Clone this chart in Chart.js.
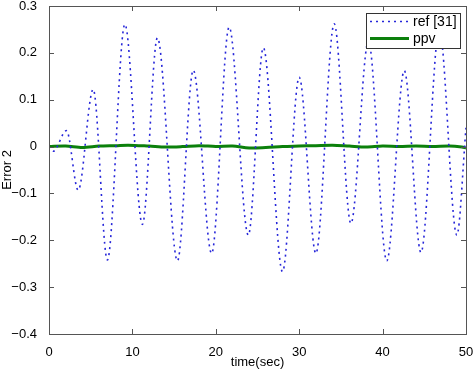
<!DOCTYPE html>
<html>
<head>
<meta charset="utf-8">
<script src="https://cdn.jsdelivr.net/npm/chart.js@4.4.1/dist/chart.umd.min.js"></script>
<style>
html,body{margin:0;padding:0;background:#fff;}
canvas{display:block;}
</style>
</head>
<body>
<canvas id="c" width="474" height="370"></canvas>
<script>
// ---- data ----
const refTime = [0, 0.5, 2.1, 3.5, 5.3, 7.0, 9.1, 11.2, 13.0, 15.4, 17.3, 19.5, 21.6, 23.9, 25.7, 28.0, 30.0, 32.0, 34.2, 36.2, 38.3, 40.5, 42.6, 44.6, 46.8, 48.9, 50];
const refError = [0, -0.01, 0.034, -0.093, 0.122, -0.242, 0.261, -0.166, 0.232, -0.244, 0.163, -0.228, 0.255, -0.189, 0.211, -0.267, 0.148, -0.228, 0.262, -0.164, 0.225, -0.244, 0.162, -0.226, 0.25, -0.189, 0.04];
const ppvTime = [0, 2, 4, 6, 8, 9.5, 12, 14, 16, 18, 20, 22, 24, 26, 28, 30, 32, 34, 36, 38, 40, 42, 44, 46, 48, 49.5, 50];
const ppvError = [0, 0.001, -0.002, 0.001, 0.002, 0.003, 0.001, -0.001, 0, 0.002, 0, 0.001, -0.003, -0.002, 0, 0.001, 0.002, 0.003, 0.001, -0.001, 0.001, 0, 0.001, 0, 0.001, -0.001, -0.003];
const seriesNames = ['ref [31]', 'ppv'];
const xTicks = [0, 10, 20, 30, 40, 50];
const yTicks = [-0.4, -0.3, -0.2, -0.1, 0, 0.1, 0.2, 0.3];

const FONT = 'Liberation Sans, Arial, Helvetica, sans-serif';
const BLUE = '#2626d9';
const GREEN = '#0c800c';
const FRAME = '#555555';

const toPts = (xs, ys) => xs.map((x, i) => ({x: x, y: ys[i]}));

const framePlugin = {
  id: 'frame',
  afterDatasetsDraw(chart) {
    const {ctx, chartArea: a, scales: {x, y}} = chart;
    ctx.save();
    ctx.strokeStyle = FRAME;
    ctx.lineWidth = 1;
    ctx.strokeRect(Math.round(a.left) + 0.5, Math.round(a.top) + 0.5, Math.round(a.right - a.left), Math.round(a.bottom - a.top));
    const tl = 5;
    ctx.beginPath();
    xTicks.forEach(v => {
      const px = Math.round(x.getPixelForValue(v)) + 0.5;
      ctx.moveTo(px, a.bottom); ctx.lineTo(px, a.bottom - tl);
      ctx.moveTo(px, a.top); ctx.lineTo(px, a.top + tl);
    });
    yTicks.forEach(v => {
      const py = Math.round(y.getPixelForValue(v)) + 0.5;
      ctx.moveTo(a.left, py); ctx.lineTo(a.left + tl, py);
      ctx.moveTo(a.right, py); ctx.lineTo(a.right - tl, py);
    });
    ctx.stroke();

    // legend inside the axes (top-right)
    const bx = 366, by = 13, bw = 94, bh = 35;
    ctx.fillStyle = '#ffffff';
    ctx.fillRect(bx, by, bw, bh);
    ctx.strokeStyle = '#333333';
    ctx.strokeRect(bx + 0.5, by + 0.5, bw, bh);
    const ds = chart.data.datasets;
    const rows = [by + 8, by + 25];
    ds.forEach((d, i) => {
      ctx.beginPath();
      ctx.strokeStyle = d.borderColor;
      ctx.lineWidth = d.borderWidth;
      ctx.setLineDash(d.borderDash || []);
      ctx.moveTo(bx + 4, rows[i] + 0.5);
      ctx.lineTo(bx + 43, rows[i] + 0.5);
      ctx.stroke();
      ctx.setLineDash([]);
      ctx.fillStyle = '#000';
      ctx.font = '14px ' + FONT;
      ctx.textBaseline = 'middle';
      ctx.textAlign = 'left';
      ctx.fillText(d.label, bx + 47, rows[i] + 1);
    });
    ctx.restore();
  }
};

new Chart(document.getElementById('c'), {
  type: 'line',
  data: {
    datasets: [
      {
        label: seriesNames[0],
        data: toPts(refTime, refError),
        borderColor: BLUE,
        borderWidth: 1.6,
        borderDash: [2, 4],
        pointRadius: 0,
        fill: false,
        cubicInterpolationMode: 'monotone'
      },
      {
        label: seriesNames[1],
        data: toPts(ppvTime, ppvError),
        borderColor: GREEN,
        borderWidth: 3,
        pointRadius: 0,
        fill: false,
        tension: 0.3
      }
    ]
  },
  options: {
    responsive: false,
    animation: false,
    devicePixelRatio: 1,
    layout: {padding: {left: 0, right: 8, top: 6, bottom: 0}},
    plugins: {legend: {display: false}, tooltip: {enabled: false}},
    scales: {
      x: {
        type: 'linear',
        min: 0, max: 50,
        afterBuildTicks: s => { s.ticks = xTicks.map(v => ({value: v})); },
        grid: {display: false},
        border: {display: false},
        ticks: {color: '#000', font: {family: FONT, size: 13}, padding: 3, maxRotation: 0},
        title: {display: true, text: 'time(sec)', color: '#000', font: {family: FONT, size: 13}, padding: {top: 0, bottom: 0}},
        afterFit: s => { s.height = 36; s.paddingLeft = 0; s.paddingRight = 0; s.paddingTop = 0; s.paddingBottom = 0; }
      },
      y: {
        type: 'linear',
        min: -0.4, max: 0.3,
        afterBuildTicks: s => { s.ticks = yTicks.map(v => ({value: v})); },
        grid: {display: false},
        border: {display: false},
        ticks: {
          color: '#000', font: {family: FONT, size: 13}, padding: 4,
          callback: v => Math.abs(v) < 1e-9 ? '0' : v.toFixed(1).replace('-', '\u2212')
        },
        title: {display: true, text: 'Error 2', color: '#000', font: {family: FONT, size: 13}, padding: {top: 0, bottom: 0}},
        afterFit: s => { s.width = 49; s.paddingLeft = 0; s.paddingRight = 0; s.paddingTop = 0; s.paddingBottom = 0; }
      }
    }
  },
  plugins: [framePlugin]
});
</script>
</body>
</html>
